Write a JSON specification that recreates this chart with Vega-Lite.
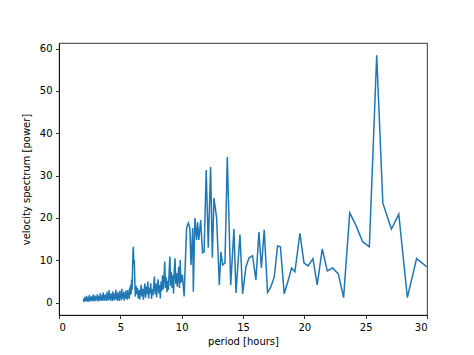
{
  "$schema": "https://vega.github.io/schema/vega-lite/v6.json",
  "autosize": "none",
  "width": 368,
  "height": 272,
  "padding": {"left": 59, "top": 43, "right": 47, "bottom": 40},
  "background": "white",
  "config": {
    "view": {"stroke": "black", "strokeWidth": 0.8},
    "axis": {
      "grid": false,
      "domainColor": "black",
      "domainWidth": 0.8,
      "tickColor": "black",
      "tickWidth": 0.8,
      "tickSize": 3.5,
      "labelFont": "DejaVu Sans",
      "labelFontSize": 10,
      "labelColor": "black",
      "labelPadding": 3.5,
      "titleFont": "DejaVu Sans",
      "titleFontSize": 10,
      "titleFontWeight": "normal",
      "titleColor": "black"
    }
  },
  "data": {
    "values": [
      {"p": 2.00, "v": 0.9}, {"p": 2.04, "v": 0.2}, {"p": 2.08, "v": 1.3}, {"p": 2.12, "v": 0.4}, {"p": 2.16, "v": 1.1},
      {"p": 2.20, "v": 0.3}, {"p": 2.24, "v": 1.6}, {"p": 2.28, "v": 0.5}, {"p": 2.32, "v": 1.0}, {"p": 2.36, "v": 0.2},
      {"p": 2.40, "v": 1.4}, {"p": 2.44, "v": 0.6}, {"p": 2.48, "v": 1.8}, {"p": 2.52, "v": 0.3}, {"p": 2.56, "v": 1.2},
      {"p": 2.60, "v": 0.5}, {"p": 2.64, "v": 1.5}, {"p": 2.68, "v": 0.4}, {"p": 2.72, "v": 1.0}, {"p": 2.76, "v": 0.7},
      {"p": 2.80, "v": 1.9}, {"p": 2.84, "v": 0.3}, {"p": 2.88, "v": 1.3}, {"p": 2.92, "v": 0.6}, {"p": 2.96, "v": 1.7},
      {"p": 3.00, "v": 0.4}, {"p": 3.04, "v": 1.2}, {"p": 3.08, "v": 0.8}, {"p": 3.12, "v": 2.0}, {"p": 3.16, "v": 0.5},
      {"p": 3.20, "v": 1.4}, {"p": 3.24, "v": 0.3}, {"p": 3.28, "v": 1.6}, {"p": 3.32, "v": 0.7}, {"p": 3.36, "v": 2.2},
      {"p": 3.40, "v": 0.5}, {"p": 3.44, "v": 1.3}, {"p": 3.48, "v": 0.6}, {"p": 3.52, "v": 1.8}, {"p": 3.56, "v": 0.4},
      {"p": 3.60, "v": 2.4}, {"p": 3.64, "v": 0.8}, {"p": 3.68, "v": 1.5}, {"p": 3.72, "v": 0.5}, {"p": 3.76, "v": 2.0},
      {"p": 3.80, "v": 0.9}, {"p": 3.84, "v": 1.6}, {"p": 3.88, "v": 0.4}, {"p": 3.92, "v": 2.6}, {"p": 3.96, "v": 0.7},
      {"p": 4.00, "v": 1.8}, {"p": 4.04, "v": 0.6}, {"p": 4.08, "v": 3.0}, {"p": 4.12, "v": 1.0}, {"p": 4.16, "v": 1.7},
      {"p": 4.20, "v": 0.5}, {"p": 4.24, "v": 2.2}, {"p": 4.28, "v": 0.9}, {"p": 4.32, "v": 1.5}, {"p": 4.36, "v": 0.4},
      {"p": 4.40, "v": 2.7}, {"p": 4.44, "v": 0.8}, {"p": 4.48, "v": 1.9}, {"p": 4.52, "v": 0.6}, {"p": 4.56, "v": 2.3},
      {"p": 4.60, "v": 1.1}, {"p": 4.64, "v": 3.1}, {"p": 4.68, "v": 0.7}, {"p": 4.72, "v": 1.6}, {"p": 4.76, "v": 0.5},
      {"p": 4.80, "v": 2.5}, {"p": 4.84, "v": 1.0}, {"p": 4.88, "v": 1.8}, {"p": 4.92, "v": 0.4}, {"p": 4.96, "v": 2.8},
      {"p": 5.00, "v": 1.2}, {"p": 5.04, "v": 2.0}, {"p": 5.08, "v": 0.6}, {"p": 5.12, "v": 3.3}, {"p": 5.16, "v": 0.9},
      {"p": 5.20, "v": 2.1}, {"p": 5.24, "v": 1.3}, {"p": 5.28, "v": 2.6}, {"p": 5.32, "v": 0.5}, {"p": 5.36, "v": 1.9},
      {"p": 5.40, "v": 1.0}, {"p": 5.44, "v": 2.9}, {"p": 5.48, "v": 1.1}, {"p": 5.52, "v": 2.2}, {"p": 5.56, "v": 0.7},
      {"p": 5.60, "v": 3.0}, {"p": 5.64, "v": 1.4}, {"p": 5.68, "v": 2.4}, {"p": 5.72, "v": 0.9}, {"p": 5.76, "v": 3.6},
      {"p": 5.80, "v": 1.8}, {"p": 5.84, "v": 4.2}, {"p": 5.88, "v": 2.0}, {"p": 5.92, "v": 5.5}, {"p": 5.96, "v": 3.0},
      {"p": 6.00, "v": 8.5}, {"p": 6.04, "v": 12.5}, {"p": 6.06, "v": 13.2}, {"p": 6.10, "v": 9.0}, {"p": 6.14, "v": 10.1},
      {"p": 6.18, "v": 5.0}, {"p": 6.22, "v": 1.5}, {"p": 6.28, "v": 4.0}, {"p": 6.34, "v": 2.0}, {"p": 6.40, "v": 3.5},
      {"p": 6.46, "v": 1.0}, {"p": 6.52, "v": 3.0}, {"p": 6.58, "v": 0.8}, {"p": 6.64, "v": 2.5}, {"p": 6.70, "v": 4.2},
      {"p": 6.76, "v": 1.5}, {"p": 6.82, "v": 3.3}, {"p": 6.88, "v": 0.7}, {"p": 6.94, "v": 2.8}, {"p": 7.00, "v": 4.5},
      {"p": 7.06, "v": 1.2}, {"p": 7.12, "v": 3.8}, {"p": 7.18, "v": 2.0}, {"p": 7.24, "v": 5.0}, {"p": 7.30, "v": 1.0},
      {"p": 7.36, "v": 3.5}, {"p": 7.42, "v": 2.2}, {"p": 7.48, "v": 4.6}, {"p": 7.54, "v": 0.9}, {"p": 7.60, "v": 3.2},
      {"p": 7.66, "v": 1.8}, {"p": 7.72, "v": 4.0}, {"p": 7.78, "v": 6.2}, {"p": 7.84, "v": 2.0}, {"p": 7.90, "v": 4.5},
      {"p": 7.96, "v": 1.3}, {"p": 8.02, "v": 3.8}, {"p": 8.08, "v": 5.5}, {"p": 8.14, "v": 2.2}, {"p": 8.20, "v": 4.2},
      {"p": 8.26, "v": 1.0}, {"p": 8.32, "v": 5.0}, {"p": 8.38, "v": 2.8}, {"p": 8.44, "v": 6.5}, {"p": 8.50, "v": 3.2},
      {"p": 8.56, "v": 5.5}, {"p": 8.62, "v": 9.7}, {"p": 8.68, "v": 3.5}, {"p": 8.74, "v": 6.0}, {"p": 8.80, "v": 2.5},
      {"p": 8.86, "v": 5.2}, {"p": 8.92, "v": 3.0}, {"p": 8.98, "v": 7.5}, {"p": 9.04, "v": 10.9}, {"p": 9.10, "v": 4.0},
      {"p": 9.16, "v": 7.2}, {"p": 9.22, "v": 3.5}, {"p": 9.28, "v": 6.5}, {"p": 9.34, "v": 2.2}, {"p": 9.40, "v": 8.0},
      {"p": 9.46, "v": 10.5}, {"p": 9.52, "v": 4.5}, {"p": 9.58, "v": 7.0}, {"p": 9.64, "v": 3.8}, {"p": 9.70, "v": 6.2},
      {"p": 9.76, "v": 8.5}, {"p": 9.82, "v": 3.5}, {"p": 9.88, "v": 10.1}, {"p": 9.94, "v": 4.7}, {"p": 10.06, "v": 6.6},
      {"p": 10.20, "v": 1.5}, {"p": 10.40, "v": 17.6}, {"p": 10.54, "v": 18.8}, {"p": 10.67, "v": 17.6}, {"p": 10.76, "v": 8.9},
      {"p": 10.90, "v": 17.6}, {"p": 10.95, "v": 2.6}, {"p": 11.08, "v": 20.0}, {"p": 11.22, "v": 14.8}, {"p": 11.30, "v": 19.0},
      {"p": 11.40, "v": 14.8}, {"p": 11.55, "v": 19.5}, {"p": 11.70, "v": 11.8}, {"p": 11.83, "v": 12.0}, {"p": 12.00, "v": 31.3},
      {"p": 12.17, "v": 13.0}, {"p": 12.36, "v": 32.0}, {"p": 12.50, "v": 10.6}, {"p": 12.63, "v": 24.7}, {"p": 12.85, "v": 20.0},
      {"p": 13.07, "v": 4.2}, {"p": 13.20, "v": 12.0}, {"p": 13.34, "v": 8.9}, {"p": 13.53, "v": 9.4}, {"p": 13.72, "v": 34.4},
      {"p": 14.00, "v": 4.2}, {"p": 14.26, "v": 17.4}, {"p": 14.43, "v": 2.3}, {"p": 14.75, "v": 16.1}, {"p": 14.97, "v": 2.1},
      {"p": 15.24, "v": 8.5}, {"p": 15.50, "v": 10.6}, {"p": 15.78, "v": 11.1}, {"p": 16.05, "v": 5.4}, {"p": 16.30, "v": 16.7},
      {"p": 16.50, "v": 8.2}, {"p": 16.73, "v": 17.2}, {"p": 17.00, "v": 2.4}, {"p": 17.28, "v": 3.8}, {"p": 17.55, "v": 6.1},
      {"p": 17.82, "v": 13.4}, {"p": 18.05, "v": 13.2}, {"p": 18.36, "v": 2.1}, {"p": 18.70, "v": 5.4}, {"p": 18.96, "v": 8.2},
      {"p": 19.23, "v": 7.3}, {"p": 19.64, "v": 16.4}, {"p": 19.97, "v": 9.4}, {"p": 20.30, "v": 8.7}, {"p": 20.70, "v": 10.4},
      {"p": 21.05, "v": 4.2}, {"p": 21.46, "v": 12.7}, {"p": 21.87, "v": 7.5}, {"p": 22.30, "v": 8.2}, {"p": 22.77, "v": 6.8},
      {"p": 23.20, "v": 1.2}, {"p": 23.70, "v": 21.2}, {"p": 24.20, "v": 18.3}, {"p": 24.75, "v": 14.4}, {"p": 25.30, "v": 13.2},
      {"p": 25.90, "v": 58.4}, {"p": 26.40, "v": 23.5}, {"p": 27.10, "v": 17.4}, {"p": 27.70, "v": 20.9}, {"p": 28.40, "v": 1.2},
      {"p": 29.15, "v": 10.4}, {"p": 29.97, "v": 8.5}
    ]
  },
  "mark": {"type": "line", "color": "#1f77b4", "strokeWidth": 1.5, "clip": true},
  "encoding": {
    "x": {
      "field": "p", "type": "quantitative", "sort": null,
      "scale": {"domain": [0, 30], "nice": false, "zero": false},
      "axis": {"values": [0, 5, 10, 15, 20, 25, 30], "title": "period [hours]", "titlePadding": 4}
    },
    "y": {
      "field": "v", "type": "quantitative",
      "scale": {"domain": [-2.9, 61.3], "nice": false, "zero": false},
      "axis": {"values": [0, 10, 20, 30, 40, 50, 60], "title": "velocity spectrum [power]", "titlePadding": 8}
    }
  }
}
